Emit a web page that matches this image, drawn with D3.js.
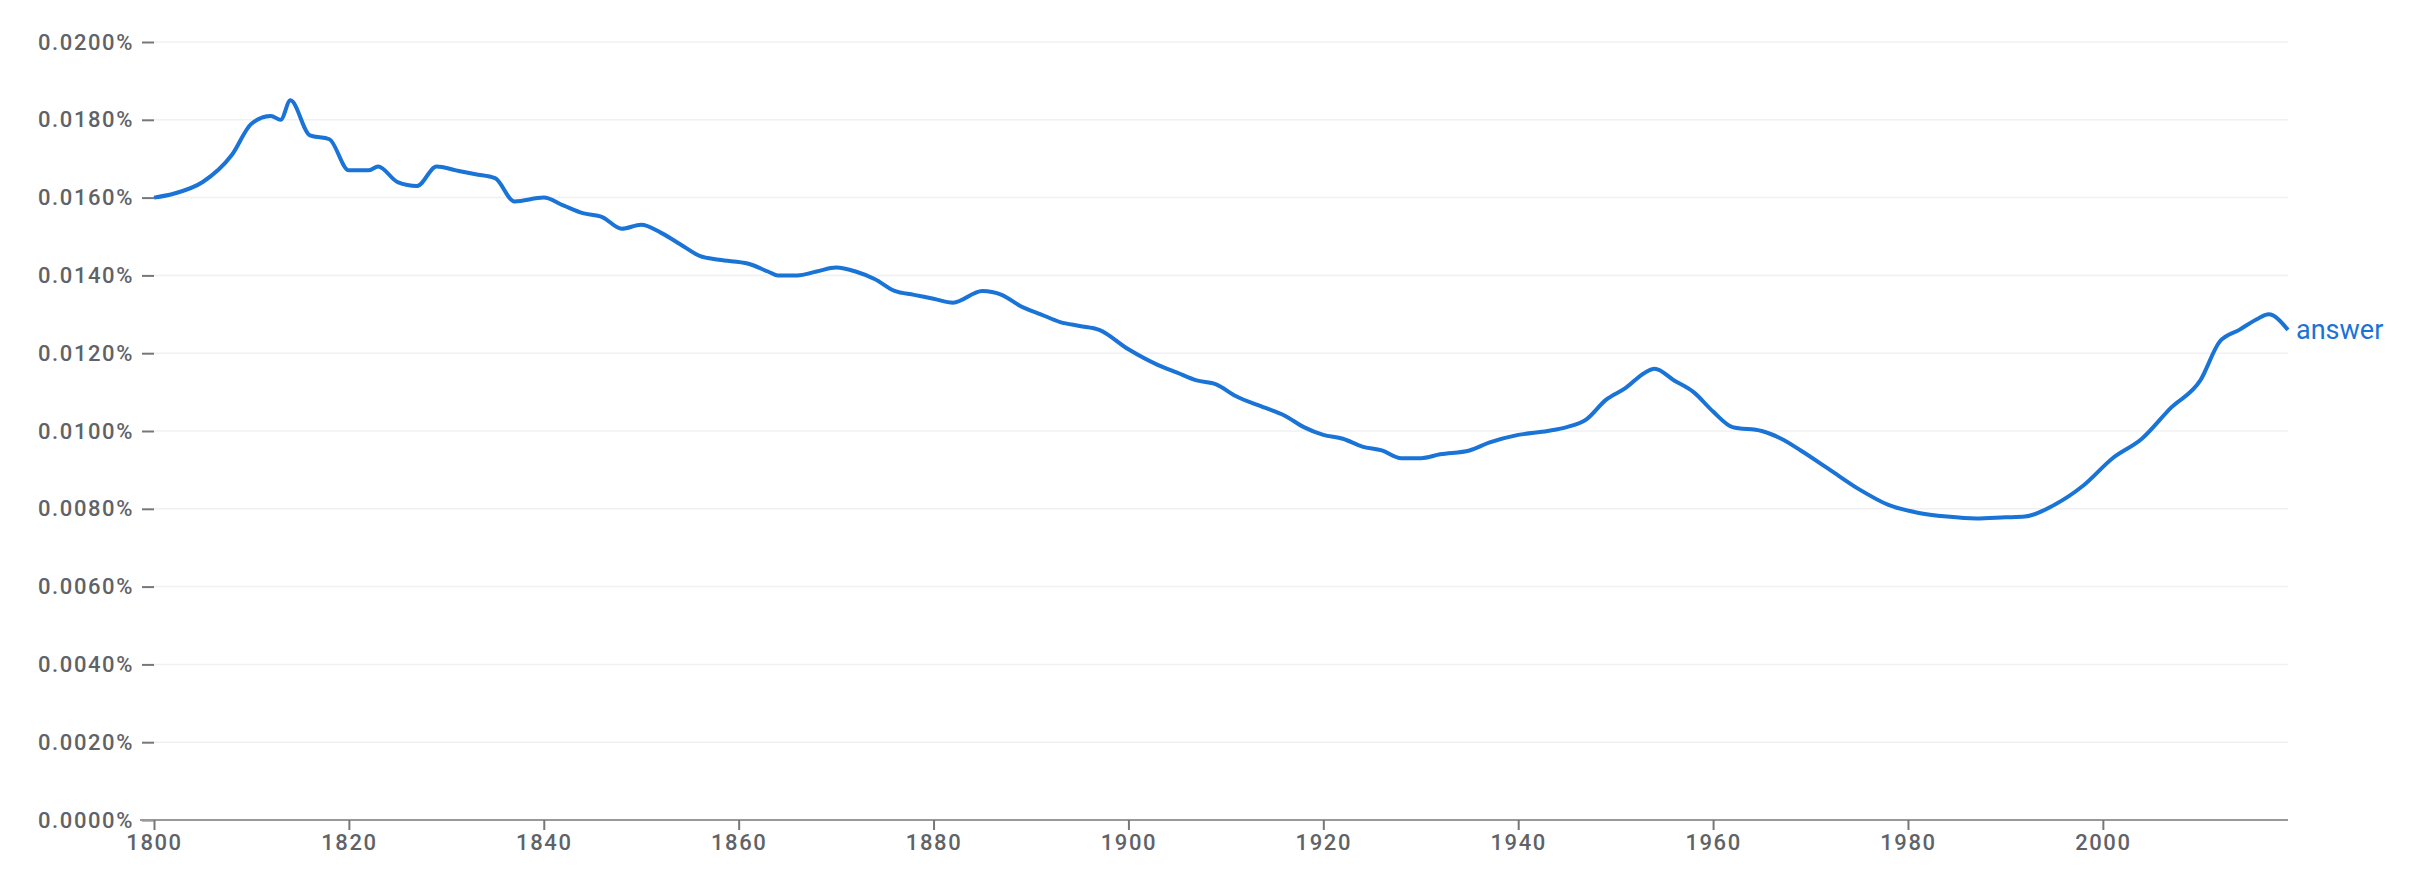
<!DOCTYPE html>
<html lang="en">
  <head>
    <meta charset="UTF-8" />
    <title>answer</title>
    <style>
      body { margin: 0; background: #fff; }
      text { font-family: Roboto, sans-serif; }
    </style>
  </head>
  <body>
    <div id="chart"></div>
    <script src="https://cdnjs.cloudflare.com/ajax/libs/d3/7.8.5/d3.min.js"></script>
    <script>
      var years = [1800,1802,1805,1808,1810,1812,1813,1814,1816,1818,1820,1822,1823,1825,1827,1829,1831,1833,1835,1837,1840,1842,1844,1846,1848,1850,1852,1854,1856,1858,1861,1863,1864,1866,1868,1870,1872,1874,1876,1878,1880,1882,1885,1887,1889,1891,1893,1895,1897,1900,1903,1905,1907,1909,1911,1914,1916,1918,1920,1922,1924,1926,1928,1930,1932,1935,1937,1940,1943,1945,1947,1949,1951,1953,1954,1956,1958,1960,1962,1965,1967,1969,1972,1975,1978,1981,1984,1987,1990,1992,1995,1998,2001,2004,2007,2010,2012,2014,2016,2017,2019];
      var values = [0.0160,0.0161,0.0164,0.0171,0.0179,0.0181,0.0180,0.0185,0.0176,0.0175,0.0167,0.0167,0.0168,0.0164,0.0163,0.0168,0.0167,0.0166,0.0165,0.0159,0.0160,0.0158,0.0156,0.0155,0.0152,0.0153,0.0151,0.0148,0.0145,0.0144,0.0143,0.0141,0.0140,0.0140,0.0141,0.0142,0.0141,0.0139,0.0136,0.0135,0.0134,0.0133,0.0136,0.0135,0.0132,0.0130,0.0128,0.0127,0.0126,0.0121,0.0117,0.0115,0.0113,0.0112,0.0109,0.0106,0.0104,0.0101,0.0099,0.0098,0.0096,0.0095,0.0093,0.0093,0.0094,0.0095,0.0097,0.0099,0.0100,0.0101,0.0103,0.0108,0.0111,0.0115,0.0116,0.0113,0.0110,0.0105,0.0101,0.0100,0.0098,0.0095,0.0090,0.0085,0.0081,0.0079,0.0078,0.00775,0.00778,0.0078,0.0081,0.0086,0.0093,0.0098,0.0106,0.0113,0.0123,0.0126,0.0129,0.0130,0.0126];
      var yTicks = [0,0.002,0.004,0.006,0.008,0.010,0.012,0.014,0.016,0.018,0.020];
      var xTicks = [1800,1820,1840,1860,1880,1900,1920,1940,1960,1980,2000];
      var seriesName = "answer";

      var W = 2414, H = 880;
      var x = d3.scaleLinear().domain([1800, 2019]).range([154, 2288]);
      var y = d3.scaleLinear().domain([0, 0.02]).range([820, 42]);

      var svg = d3.select("#chart").append("svg").attr("width", W).attr("height", H);

      // grid
      svg.append("g").selectAll("line").data(yTicks.slice(1)).enter().append("line")
        .attr("x1", 154).attr("x2", 2288)
        .attr("y1", function (d) { return y(d); }).attr("y2", function (d) { return y(d); })
        .attr("stroke", "#f0f0f0").attr("stroke-width", 1.5);

      var yAxis = svg.append("g").attr("transform", "translate(154,0)")
        .call(d3.axisLeft(y).tickValues(yTicks).tickSize(12).tickPadding(8)
          .tickFormat(function (d) { return d.toFixed(4) + "%"; }));
      yAxis.select(".domain").remove();

      var xAxis = svg.append("g").attr("transform", "translate(0,820)")
        .call(d3.axisBottom(x).tickValues(xTicks).tickSize(10).tickPadding(4).tickFormat(d3.format("d")));
      xAxis.select(".domain").attr("d", "M140,0H2288");

      svg.selectAll(".tick line").attr("stroke", "#777").attr("stroke-width", 2);
      xAxis.select(".domain").attr("stroke", "#999").attr("stroke-width", 2);
      svg.selectAll(".tick text").attr("fill", "#5f6368")
        .style("font-size", "22px").style("font-weight", "500").style("letter-spacing", "1.6px");

      var pts = years.map(function (d, i) { return [d, values[i]]; });
      svg.append("path").datum(pts)
        .attr("fill", "none").attr("stroke", "#1a73d6").attr("stroke-width", 4)
        .attr("d", d3.line().x(function (d) { return x(d[0]); }).y(function (d) { return y(d[1]); })
          .curve(d3.curveMonotoneX));

      svg.append("text").attr("x", x(2019) + 8).attr("y", y(values[values.length - 1]) + 9)
        .attr("fill", "#1a73d6").style("font-size", "27px").text(seriesName);
    </script>
  </body>
</html>
